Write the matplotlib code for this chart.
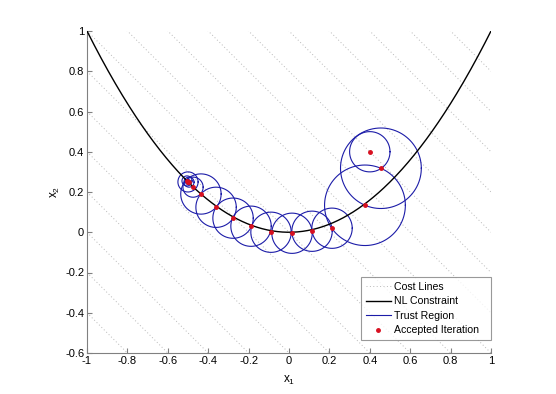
import numpy as np
import matplotlib
matplotlib.use("Agg")
import matplotlib.pyplot as plt
from matplotlib.lines import Line2D

plt.rcParams['font.family'] = ['Liberation Sans', 'DejaVu Sans']
plt.rcParams['mathtext.default'] = 'regular'

# ---- data ----
cost_levels = [-1.6, -1.4, -1.2, -1.0, -0.8, -0.6, -0.4, -0.2, 0.0, 0.2, 0.4,
               0.6, 0.8, 1.0, 1.2, 1.4, 1.6, 1.8, 2.0]
iter_x1 = [0.400, 0.455, 0.376, 0.213, 0.114, 0.015, -0.089, -0.188, -0.277,
           -0.361, -0.436, -0.475, -0.500, -0.495, -0.505, -0.500]
iter_x2 = [0.400, 0.318, 0.134, 0.020, 0.005, -0.005, 0.000, 0.030, 0.070,
           0.124, 0.190, 0.224, 0.250, 0.249, 0.255, 0.250]
radii = [0.10, 0.20, 0.20, 0.10, 0.10, 0.10, 0.10, 0.10, 0.10,
         0.10, 0.10, 0.05, 0.05, 0.025, 0.025, 0.0125]
xticks = [-1, -0.8, -0.6, -0.4, -0.2, 0, 0.2, 0.4, 0.6, 0.8, 1]
yticks = [-0.6, -0.4, -0.2, 0, 0.2, 0.4, 0.6, 0.8, 1]
xticklabels = ['-1', '-0.8', '-0.6', '-0.4', '-0.2', '0', '0.2', '0.4', '0.6', '0.8', '1']
yticklabels = ['-0.6', '-0.4', '-0.2', '0', '0.2', '0.4', '0.6', '0.8', '1']

cost_color = '#b8b8b8'
cost_style = (0, (1, 2.5))
tr_color = '#1c1ca8'
pt_color = '#d81020'

fig = plt.figure(figsize=(5.56, 3.94), dpi=100)
ax = fig.add_axes([87/556, 41/394, 404/556, 322/394])

xs = np.linspace(-1, 1, 400)
# cost lines x1 + x2 = c
for c in cost_levels:
    ax.plot([-1, 1], [c + 1, c - 1], color=cost_color, lw=0.7,
            linestyle=cost_style, zorder=1)
# nonlinear constraint x2 = x1^2
ax.plot(xs, xs**2, color='black', lw=1.0, zorder=3)
# trust regions
t = np.linspace(0, 2*np.pi, 200)
for cx, cy, r in zip(iter_x1, iter_x2, radii):
    ax.plot(cx + r*np.cos(t), cy + r*np.sin(t), color=tr_color, lw=0.8, zorder=2)
# accepted iterations
ax.plot(iter_x1, iter_x2, linestyle='none', marker='.', color=pt_color,
        markersize=5, zorder=4)

ax.set_xlim(-1, 1)
ax.set_ylim(-0.6, 1)
ax.set_xticks(xticks)
ax.set_xticklabels(xticklabels)
ax.set_yticks(yticks)
ax.set_yticklabels(yticklabels)
for s in ['top', 'right']:
    ax.spines[s].set_visible(False)
for s in ['left', 'bottom']:
    ax.spines[s].set_color('#808080')
    ax.spines[s].set_linewidth(0.8)
ax.tick_params(direction='in', length=3.5, width=0.8, color='#808080',
               labelsize=8, labelcolor='black', pad=2)
ax.set_xlabel('x$_1$', fontsize=8.5, labelpad=6)
ax.set_ylabel('x$_2$', fontsize=8.5, labelpad=2)

handles = [
    Line2D([], [], color=cost_color, lw=0.7, linestyle=cost_style),
    Line2D([], [], color='black', lw=1.0),
    Line2D([], [], color=tr_color, lw=0.8),
    Line2D([], [], linestyle='none', marker='.', color=pt_color, markersize=5),
]
labels = ['Cost Lines', 'NL Constraint', 'Trust Region', 'Accepted Iteration']
leg = ax.legend(handles, labels, loc='lower left',
                bbox_to_anchor=((361 - 87) / 404, 13 / 322, 130 / 404, 56 / 322),
                mode='expand', fontsize=7.6, frameon=True, fancybox=False,
                handlelength=2.4, handletextpad=0.25, borderpad=0.45,
                labelspacing=0.42, borderaxespad=0.0)
leg.get_frame().set_edgecolor('#808080')
leg.get_frame().set_linewidth(0.8)

fig.savefig('out.png', dpi=100)
